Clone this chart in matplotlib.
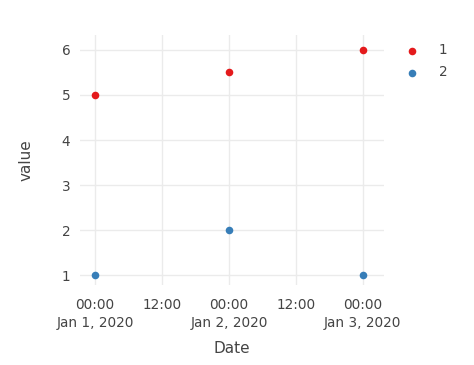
import numpy as np
import matplotlib.pyplot as plt
import matplotlib.dates as mdates
from datetime import datetime, timedelta

plt.rcParams['font.family'] = ['DejaVu Sans']

dates = [datetime(2020, 1, 1), datetime(2020, 1, 2), datetime(2020, 1, 3)]
series_1 = [5, 5.5, 6]
series_2 = [1, 2, 1]
series_names = ['1', '2']
colors = ['#e41a1c', '#377eb8']

tick_dates = [datetime(2020, 1, 1) + timedelta(hours=12 * i) for i in range(5)]
tick_labels = ['00:00\nJan 1, 2020', '12:00', '00:00\nJan 2, 2020', '12:00', '00:00\nJan 3, 2020']

fig = plt.figure(figsize=(4.74, 3.65), dpi=100)
ax = fig.add_axes([0.169, 0.219, 0.641, 0.685])

for vals, name, c in zip([series_1, series_2], series_names, colors):
    ax.scatter(dates, vals, s=30, color=c, label=name, zorder=3, linewidths=0)

ax.set_xlim(datetime(2020, 1, 1) - timedelta(hours=2.7), datetime(2020, 1, 3) + timedelta(hours=3.8))
ax.set_ylim(0.78, 6.33)
ax.set_xticks(tick_dates)
ax.set_xticklabels(tick_labels, linespacing=1.4)
ax.set_yticks([1, 2, 3, 4, 5, 6])

ax.grid(True, color='#ebebeb', linewidth=1)
ax.set_axisbelow(True)
for s in ax.spines.values():
    s.set_visible(False)
ax.tick_params(length=0, colors='#444444', labelsize=9.8, pad=7)
ax.tick_params(axis='x', pad=9)

ax.set_xlabel('Date', fontsize=11, color='#444444', labelpad=8)
ax.set_ylabel('value', fontsize=11, color='#444444', labelpad=20)

leg = ax.legend(loc='upper left', bbox_to_anchor=(1.02, 1.0), frameon=False,
                fontsize=9.8, handletextpad=1.0, labelspacing=0.6,
                markerscale=1.0, borderaxespad=0.2)
for t in leg.get_texts():
    t.set_color('#444444')

fig.savefig('out.png', dpi=100)
